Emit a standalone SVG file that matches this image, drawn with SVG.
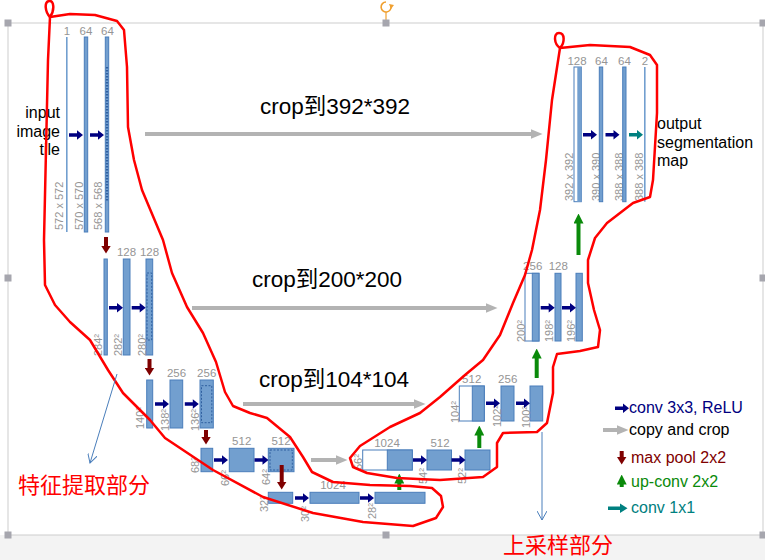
<svg xmlns="http://www.w3.org/2000/svg" xmlns:xlink="http://www.w3.org/1999/xlink" width="765" height="560" viewBox="0 0 765 560">
<style>
text{font-family:"Liberation Sans","Noto Sans CJK SC",sans-serif}
.b{fill:#729fcf;stroke:#4a7ebb;stroke-width:1}
.w{fill:#fff;stroke:#4a7ebb;stroke-width:1}
.t{fill:#729fcf}
.d{fill:none;stroke:#2f5f9f;stroke-width:1;stroke-dasharray:2 1.5}
.lb{font-size:11.5px;fill:#959595;text-anchor:middle}
.rl{font-size:11px;fill:#959595}
.big{font-size:16px;fill:#000}
.crop{font-size:22.5px;fill:#000}
.cn{font-family:"Noto Sans CJK SC",sans-serif;font-size:22px;fill:#ff0000}
.lg{font-size:16px}
.ga{stroke:#b3b3b3;stroke-width:4;fill:none;marker-end:url(#gh)}
.ma{stroke:#7f0000;stroke-width:4;fill:none;marker-end:url(#mh)}
.gu{stroke:#0a8a0a;stroke-width:4;fill:none;marker-end:url(#gr)}
.red{fill:none;stroke:#ff0000;stroke-width:2.5;stroke-linejoin:round;stroke-linecap:round}
.bl{stroke:#4a7ebb;stroke-width:1;fill:none;marker-end:url(#op)}
.h{fill:#a6a6ae}
</style>
<defs>
<path id="nv" d="M0,-1.8 H8 V-4.7 L14,0 L8,4.7 V1.8 H0 Z"/>
<marker id="gh" markerUnits="userSpaceOnUse" markerWidth="12" markerHeight="10" viewBox="0 0 12 10" refX="0.5" refY="5" orient="auto"><path d="M0,0 L12,5 L0,10 Z" fill="#b3b3b3"/></marker>
<marker id="mh" markerUnits="userSpaceOnUse" markerWidth="8" markerHeight="10" viewBox="0 0 8 10" refX="0.5" refY="5" orient="auto"><path d="M0,0 L8,5 L0,10 Z" fill="#7f0000"/></marker>
<marker id="gr" markerUnits="userSpaceOnUse" markerWidth="10" markerHeight="10" viewBox="0 0 10 10" refX="0.5" refY="5" orient="auto"><path d="M0,0 L10,5 L0,10 Z" fill="#0a8a0a"/></marker>
<marker id="op" markerUnits="userSpaceOnUse" markerWidth="10" markerHeight="10" viewBox="0 0 10 10" refX="9" refY="5" orient="auto"><path d="M0,0 L9,5 L0,10" fill="none" stroke="#4a7ebb" stroke-width="1"/></marker>
</defs>
<rect x="0" y="0" width="765" height="560" fill="#fff"/>
<rect x="0" y="535" width="765" height="25" fill="#f3f3f3"/>
<g id="frame">
<path d="M8,535 V23 H763 V535 H8" fill="none" stroke="#cdcdcd" stroke-width="1"/>
<line x1="386" y1="12" x2="386" y2="20" stroke="#f0a030" stroke-width="1.2"/>
<path d="M391,6 A5,5 0 1 1 386,2" fill="none" stroke="#f0a030" stroke-width="1.6"/>
<path d="M389,4 L394,5 L391,9 Z" fill="#f0a030"/>
<rect class="h" x="4.5" y="19.5" width="7" height="7"/><rect class="h" x="382.5" y="19.5" width="7" height="7"/><rect class="h" x="759.5" y="19.5" width="7" height="7"/>
<rect class="h" x="4.5" y="274.5" width="7" height="7"/><rect class="h" x="759.5" y="274.5" width="7" height="7"/>
<rect class="h" x="4.5" y="531.5" width="7" height="7"/><rect class="h" x="382.5" y="531.5" width="7" height="7"/><rect class="h" x="759.5" y="531.5" width="7" height="7"/>
</g>

<g id="input-label"><text class="big" text-anchor="end" x="60" y="118">input</text><text class="big" text-anchor="end" x="60" y="137">image</text><text class="big" text-anchor="end" x="60" y="155">tile</text></g>
<g id="output-label"><text class="big" x="657" y="129">output</text><text class="big" x="657" y="148">segmentation</text><text class="big" x="657" y="166">map</text></g>

<!-- encoder level 1 -->
<g id="e1a"><rect class="t" x="66" y="37" width="1.6" height="195"/><text class="lb" x="67" y="35">1</text><text class="rl" transform="translate(63,230) rotate(-90)">572 x 572</text></g>
<g id="e1b"><rect class="b" x="84.3" y="37" width="3.4" height="195"/><text class="lb" x="86" y="35">64</text><text class="rl" transform="translate(83,230) rotate(-90)">570 x 570</text></g>
<g id="e1c"><text class="rl" transform="translate(101.5,230) rotate(-90)">568 x 568</text><rect class="b" x="105.3" y="37" width="3.4" height="195"/><line x1="107" y1="67" x2="107" y2="202" stroke="#2f5f9f" stroke-width="2.2" stroke-dasharray="1.6 1.4"/><text class="lb" x="107.5" y="35">64</text></g>

<!-- encoder level 2 -->
<g id="e2a"><rect class="b" x="104" y="259" width="3.3" height="96"/><text class="rl" transform="translate(102,356) rotate(-90)">284²</text></g>
<g id="e2b"><rect class="b" x="123.3" y="259" width="6.7" height="96"/><text class="lb" x="126.5" y="256">128</text><text class="rl" transform="translate(122,356) rotate(-90)">282²</text></g>
<g id="e2c"><rect class="b" x="146" y="259" width="6.7" height="96"/><rect class="d" x="147" y="273" width="4.7" height="67"/><text class="lb" x="149.5" y="256">128</text><text class="rl" transform="translate(145.5,356) rotate(-90)">280²</text></g>

<!-- encoder level 3 -->
<g id="e3a"><rect class="b" x="146.7" y="380" width="6" height="48"/><text class="rl" transform="translate(144,429) rotate(-90)">140²</text></g>
<g id="e3b"><rect class="b" x="170" y="380" width="12.7" height="48"/><text class="lb" x="176.5" y="377">256</text><text class="rl" transform="translate(169,431) rotate(-90)">138²</text></g>
<g id="e3c"><rect class="b" x="200" y="380" width="13.3" height="48"/><rect class="d" x="201.5" y="385.7" width="10.3" height="37"/><text class="lb" x="206.7" y="377">256</text><text class="rl" transform="translate(199,431) rotate(-90)">136²</text></g>

<!-- encoder level 4 -->
<g id="e4a"><rect class="b" x="201" y="448.3" width="11.7" height="23.4"/><text class="rl" transform="translate(199,473) rotate(-90)">68²</text></g>
<g id="e4b"><rect class="b" x="229.3" y="448.3" width="24.7" height="23.4"/><text class="lb" x="241.7" y="445">512</text><text class="rl" transform="translate(229,486) rotate(-90)">66²</text></g>
<g id="e4c"><rect class="b" x="268.3" y="448.3" width="25.7" height="23.4"/><rect class="d" x="270" y="450" width="22.3" height="20"/><text class="lb" x="281" y="445">512</text><text class="rl" transform="translate(270,485) rotate(-90)">64²</text></g>

<!-- bottom level 5 -->
<g id="b5a"><rect class="b" x="268.3" y="492.3" width="24.4" height="11"/><text class="rl" transform="translate(268,512) rotate(-90)">32²</text></g>
<g id="b5b"><rect class="b" x="310" y="492.3" width="49" height="11"/><text class="lb" x="333" y="489">1024</text><text class="rl" transform="translate(309,522) rotate(-90)">30²</text></g>
<g id="b5c"><rect class="b" x="375" y="492.3" width="50" height="11"/><text class="rl" transform="translate(376,519) rotate(-90)">28²</text></g>

<!-- decoder level 4 -->
<g id="d4a"><text class="rl" transform="translate(362,470) rotate(-90)">56²</text><rect class="w" x="362.7" y="450" width="49.6" height="20"/><rect class="b" x="387.3" y="450" width="25" height="20"/><text class="lb" x="387" y="446.7">1024</text></g>
<g id="d4b"><rect class="b" x="427" y="450" width="24.5" height="20"/><text class="lb" x="440" y="446.5">512</text><text class="rl" transform="translate(427,484) rotate(-90)">54²</text></g>
<g id="d4c"><rect class="b" x="465" y="450" width="25" height="20"/><text class="rl" transform="translate(465.5,484) rotate(-90)">52²</text></g>

<!-- decoder level 3 -->
<g id="d3a"><rect class="w" x="459.3" y="386" width="25" height="35"/><rect class="b" x="472.3" y="386" width="12" height="35"/><text class="lb" x="471.7" y="383">512</text><text class="rl" transform="translate(459,423) rotate(-90)">104²</text></g>
<g id="d3b"><rect class="b" x="501" y="386" width="13" height="35"/><text class="lb" x="507.7" y="383">256</text><text class="rl" transform="translate(500.5,427) rotate(-90)">102²</text></g>
<g id="d3c"><rect class="b" x="530" y="386" width="12.7" height="35"/><text class="rl" transform="translate(530,428) rotate(-90)">100²</text></g>

<!-- decoder level 2 -->
<g id="d2a"><rect class="w" x="525" y="273.3" width="14" height="67.7"/><rect class="b" x="532.3" y="273.3" width="6.7" height="67.7"/><text class="lb" x="532.7" y="270">256</text><text class="rl" transform="translate(524.5,342) rotate(-90)">200²</text></g>
<g id="d2b"><rect class="b" x="555" y="273.3" width="6" height="67.7"/><text class="lb" x="558.3" y="270">128</text><text class="rl" transform="translate(553,342) rotate(-90)">198²</text></g>
<g id="d2c"><text class="rl" transform="translate(575,342) rotate(-90)">196²</text><rect class="b" x="576" y="273.3" width="6.3" height="67.7"/></g>

<!-- decoder level 1 -->
<g id="d1a"><text class="rl" transform="translate(572.5,201) rotate(-90)">392 x 392</text><rect class="w" x="574" y="67" width="7.3" height="134.7"/><rect class="t" x="577.3" y="67" width="4" height="134.7"/><text class="lb" x="577" y="65">128</text></g>
<g id="d1b"><text class="rl" transform="translate(600,201) rotate(-90)">390 x 390</text><rect class="b" x="599.3" y="67" width="3.4" height="134.7"/><text class="lb" x="601.5" y="65">64</text></g>
<g id="d1c"><text class="rl" transform="translate(623,201) rotate(-90)">388 x 388</text><rect class="b" x="622.7" y="67" width="3.3" height="134.7"/><text class="lb" x="624.5" y="65">64</text></g>
<g id="d1d"><text class="rl" transform="translate(643,201) rotate(-90)">388 x 388</text><rect class="t" x="644" y="67" width="1.6" height="134.7"/><text class="lb" x="645" y="65">2</text></g>

<g id="connectors">
<g fill="#000080">
<use xlink:href="#nv" x="69" y="135"/><use xlink:href="#nv" x="90" y="135"/>
<use xlink:href="#nv" x="109" y="307.7"/><use xlink:href="#nv" x="131.7" y="307.7"/>
<use xlink:href="#nv" x="155" y="404"/><use xlink:href="#nv" x="184.8" y="404"/>
<use xlink:href="#nv" x="214" y="460"/><use xlink:href="#nv" x="254.5" y="460"/>
<use xlink:href="#nv" x="295" y="498"/><use xlink:href="#nv" x="360" y="498"/>
<use xlink:href="#nv" x="413" y="460"/><use xlink:href="#nv" x="451.5" y="460"/>
<use xlink:href="#nv" x="486" y="403.3"/><use xlink:href="#nv" x="516" y="403.3"/>
<use xlink:href="#nv" x="540.7" y="307.7"/><use xlink:href="#nv" x="562" y="307.7"/>
<use xlink:href="#nv" x="583" y="134.7"/><use xlink:href="#nv" x="605.5" y="134.7"/>
</g>
<use xlink:href="#nv" x="629" y="134.7" fill="#008080"/>
<line class="ga" x1="145" y1="134" x2="531" y2="134"/>
<line class="ga" x1="192" y1="308" x2="486" y2="308"/>
<line class="ga" x1="243" y1="404" x2="414" y2="404"/>
<line class="ga" x1="311" y1="460" x2="336" y2="460"/>
<line class="ma" x1="106" y1="237" x2="106" y2="246"/>
<line class="ma" x1="149.5" y1="359" x2="149.5" y2="368"/>
<line class="ma" x1="206" y1="430" x2="206" y2="437"/>
<line class="ma" x1="281.7" y1="465" x2="281.7" y2="482"/>
<line class="gu" x1="399.3" y1="490" x2="399.3" y2="483"/>
<line class="gu" x1="479.3" y1="448" x2="479.3" y2="435"/>
<line class="gu" x1="536.7" y1="378" x2="536.7" y2="358"/>
<line class="gu" x1="578.5" y1="255" x2="578.5" y2="223"/>
</g>

<g id="crop-labels">
<text class="crop" x="260" y="114">crop到392*392</text>
<text class="crop" x="252" y="287">crop到200*200</text>
<text class="crop" x="259" y="387">crop到104*104</text>
</g>

<g id="legend">
<use xlink:href="#nv" x="615" y="408.3" fill="#000080"/>
<text class="lg" x="629" y="413" fill="#000080">conv 3x3, ReLU</text>
<line class="ga" x1="603" y1="430" x2="617" y2="430"/>
<text class="lg" x="629" y="435" fill="#000">copy and crop</text>
<line class="ma" x1="621.7" y1="451" x2="621.7" y2="457"/>
<text class="lg" x="631" y="463" fill="#7f0000">max pool 2x2</text>
<line class="gu" x1="621.7" y1="487" x2="621.7" y2="484"/>
<text class="lg" x="631" y="487" fill="#0a8a0a">up-conv 2x2</text>
<path d="M608,506.5 H620 V503.6 L627.5,508.3 L620,513 V510.1 H608 Z" fill="#008080"/>
<text class="lg" x="631" y="512.5" fill="#008080">conv 1x1</text>
</g>

<g id="annotations">
<path class="red" d="M50,17 C45,12 44,2 49,1 C54,0 55,10 50,17"/>
<polyline class="red" points="50,17 70,14 95,15 117,21 124,30 127,67 128,127 134,160 142,190 163,240 172,273 187,307 203,333 216,362 225,392 233,406 250,413 267,418 290,437 303,457 312,472 333,482 370,485 410,486 432,488 441,496 443,507 436,518 413,526 363,522 313,513 263,497 213,470 180,448 165,438 150,420 123,393 108,370 90,340 70,322 55,305 45,285 44,240 46,150 48,60 50,17"/>
<path class="red" d="M560,48 C554,44 553,33 559,33 C565,33 565,43 560,48"/>
<polyline class="red" points="560,48 590,45 630,47 650,55 657,65 657,113 653,180 650,197 633,203 607,223 595,238 588,260 588,283 594,310 600,330 598,347 580,351 557,354 553,367 553,393 547,423 537,432 503,433 497,443 497,467 483,477 440,480 397,478 367,473 353,467 350,458 360,446 390,427 420,413 440,397 465,375 483,360 500,335 513,303 525,275 532,250 540,210 546,160 552,100 560,48"/>
<line class="bl" x1="117" y1="374" x2="90" y2="463"/>
<line class="bl" x1="542" y1="432" x2="542" y2="520"/>
<text class="cn" x="18" y="493">特征提取部分</text>
<text class="cn" x="503" y="553">上采样部分</text>
</g>
</svg>
